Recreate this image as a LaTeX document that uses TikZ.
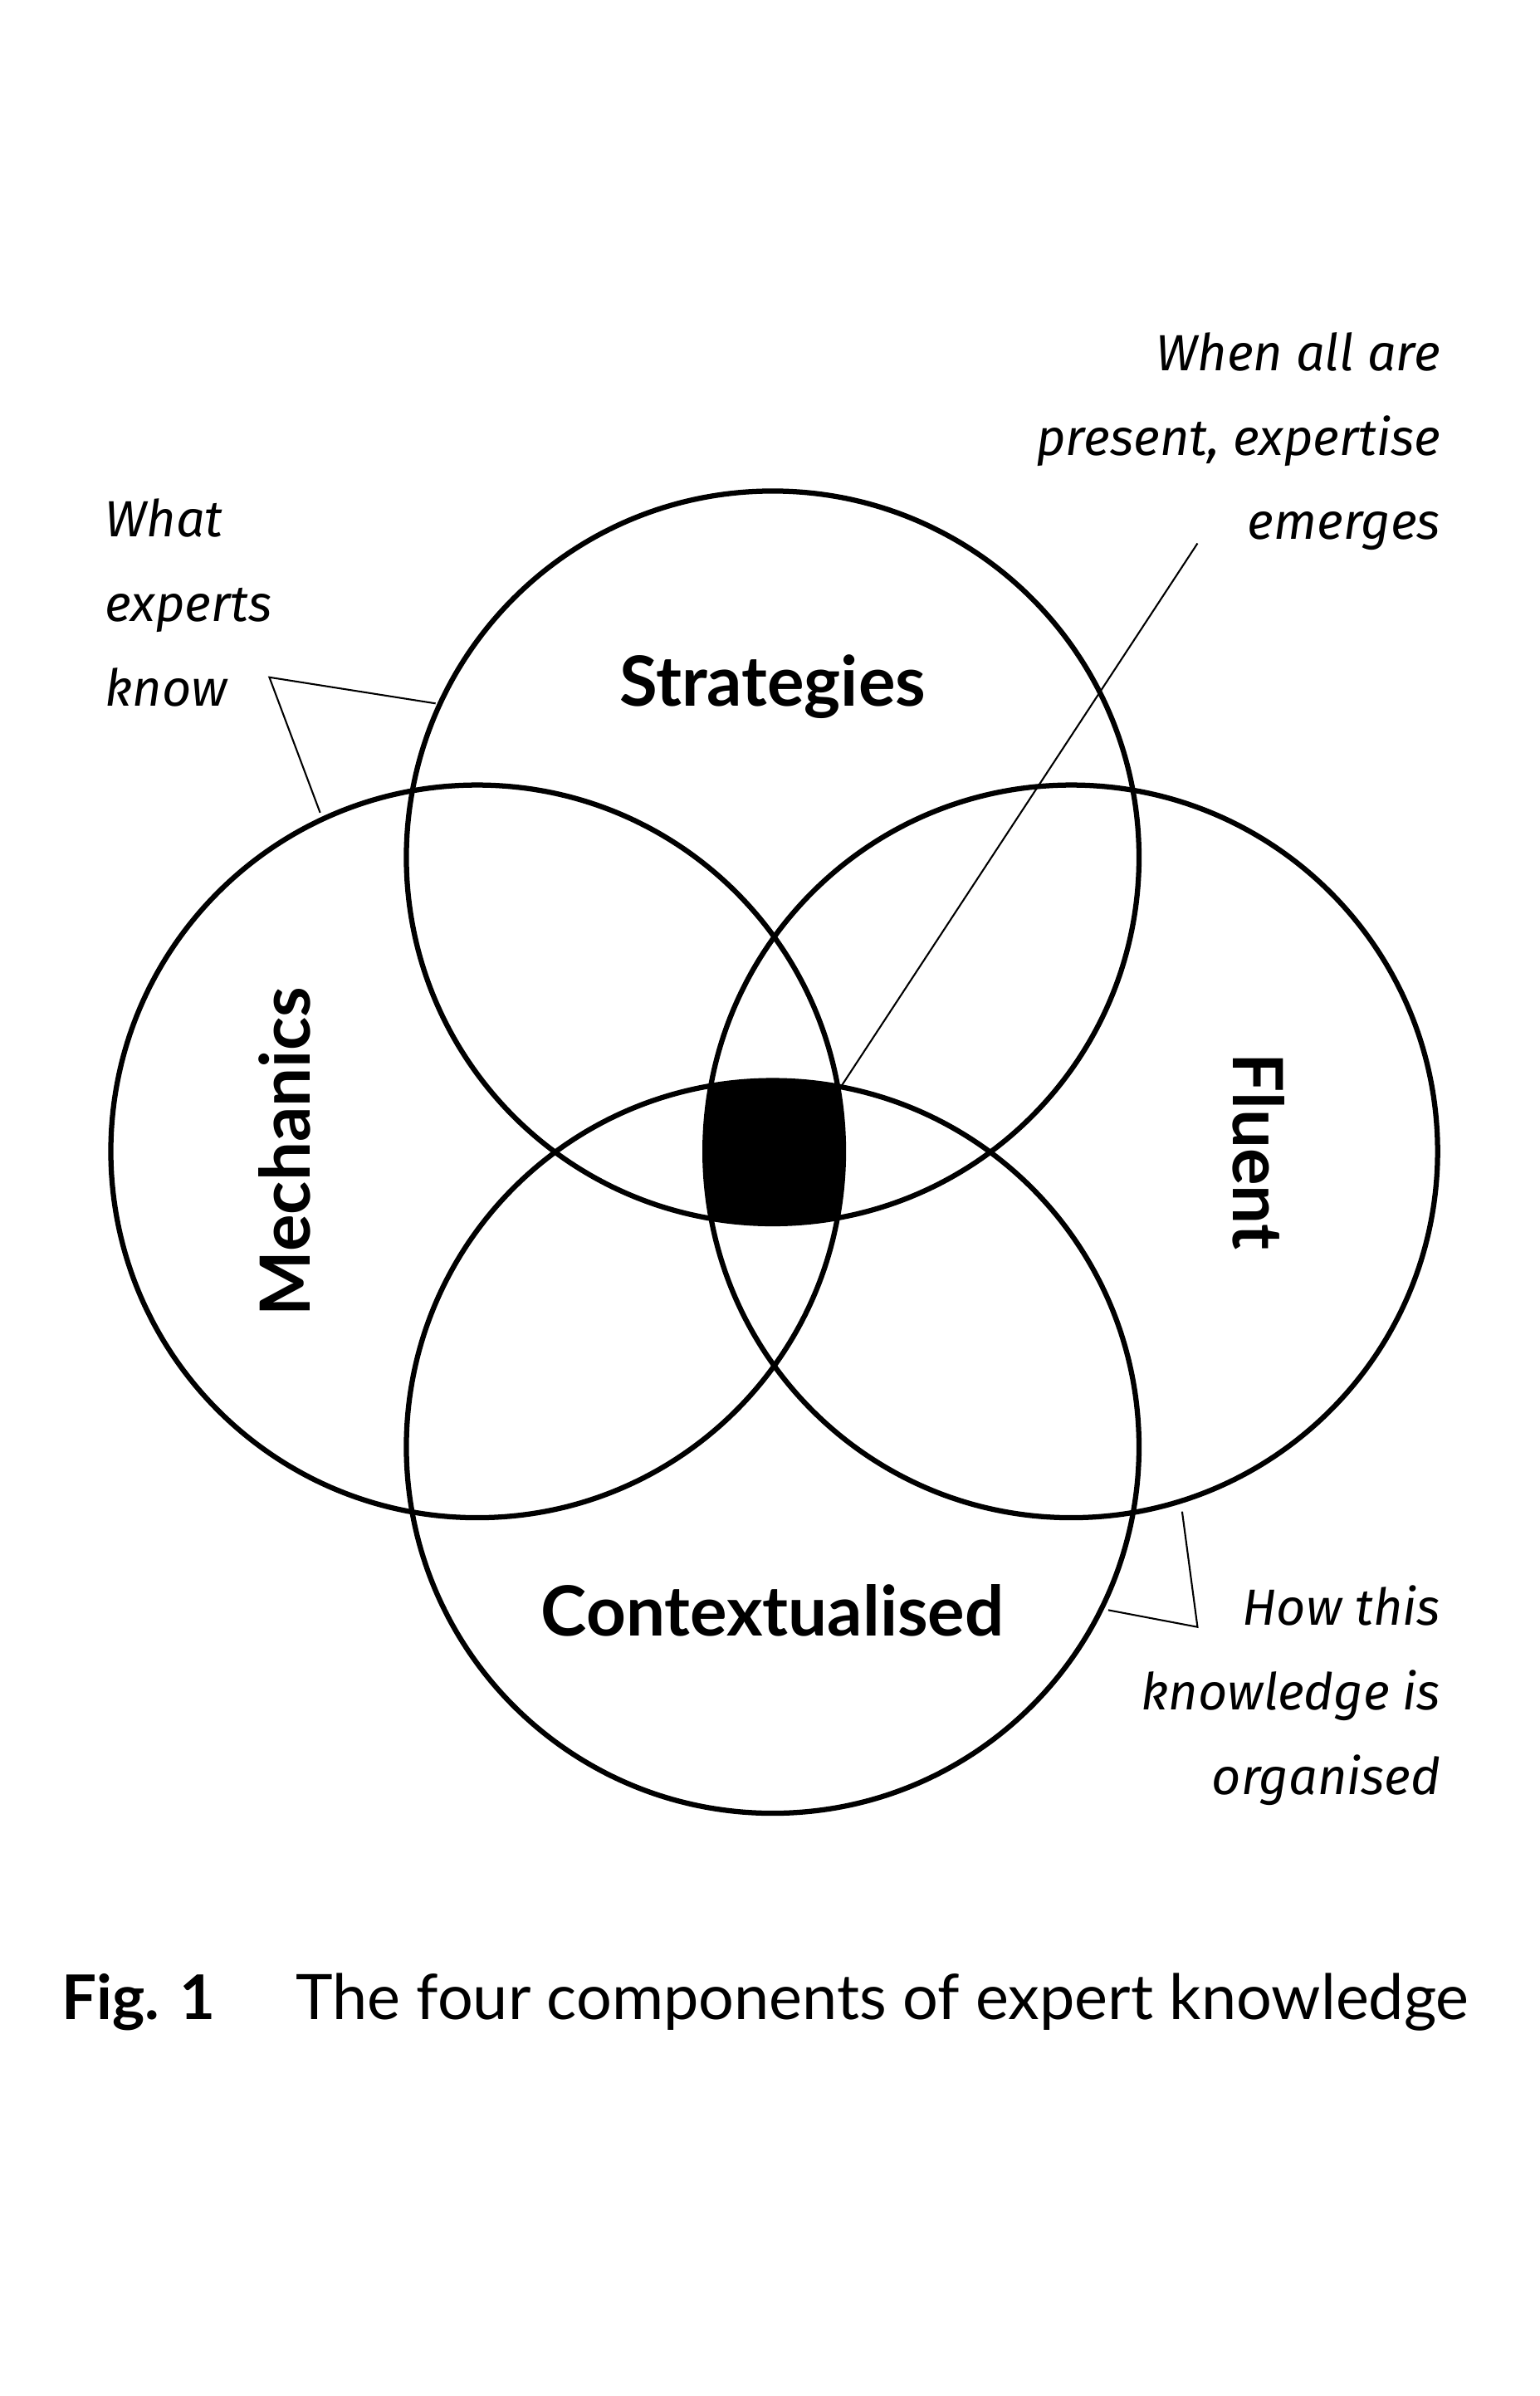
\documentclass[tikz,border=0pt]{standalone}
\usepackage{fontspec}
\setmainfont{Lato}
\newfontfamily\hand{Fira Sans}
\begin{document}
\begin{tikzpicture}[x=0.05cm,y=-0.05cm,
  ring/.style={line width=4.8pt},
  lead/.style={line width=1.6pt},
  lab/.style={font=\fontsize{64}{76}\selectfont\bfseries},
  note/.style={font=\hand\itshape\fontsize{47}{78}\selectfont,align=left,inner sep=0}]
\useasboundingbox (0,0) rectangle (1000,1556.6);
\coordinate (S) at (502,557);
\coordinate (M) at (310,748);
\coordinate (F) at (696,748);
\coordinate (C) at (502,940);
\begin{scope}
\clip (S) circle (238);
\clip (M) circle (238);
\clip (F) circle (238);
\fill[black] (C) circle (238);
\end{scope}
\foreach \c in {S,M,F,C} \draw[ring] (\c) circle (238);
\node[lab] (ls) at (502,446) {Strategies};
\node[lab,rotate=90] (lm) at (185,748) {Mechanics};
\node[lab,rotate=-90] (lf) at (818,748) {Fluent};
\node[lab] (lc) at (502,1046) {Contextualised};
\node[note,anchor=north west] (n1) at (68,324) {What\\experts\\know};
\node[note,anchor=north east,align=right] (n2) at (936,216) {When all are\\present, expertise\\emerges};
\node[note,anchor=north east,align=right] (n3) at (936,1030) {How this\\knowledge is\\organised};
\coordinate (a0) at (175,440);
\coordinate (a1) at (283,457);
\coordinate (a2) at (208,528);
\draw[lead] (a1) -- (a0) -- (a2);
\coordinate (b0) at (778,353);
\coordinate (b1) at (547,705);
\draw[lead] (b0) -- (b1);
\coordinate (c0) at (768,982);
\coordinate (c1) at (778,1057);
\coordinate (c2) at (720,1046);
\draw[lead] (c0) -- (c1) -- (c2);
\node[anchor=base west,font=\fontsize{57}{68}\selectfont\bfseries,inner sep=0] (fig) at (40,1312) {Fig. 1};
\node[anchor=base west,font=\fontsize{58}{68}\selectfont,inner sep=0] (cap) at (192,1312) {The four components of expert knowledge};
\end{tikzpicture}
\end{document}
